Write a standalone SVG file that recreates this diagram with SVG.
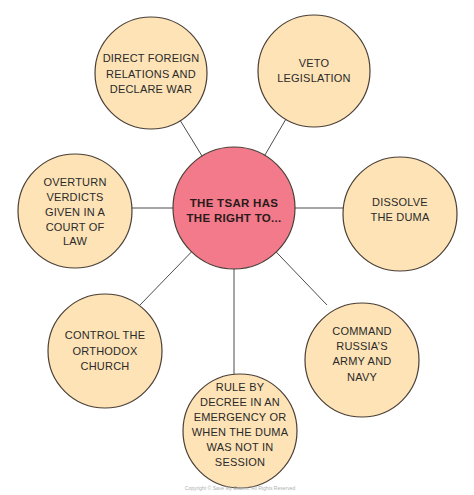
<svg xmlns="http://www.w3.org/2000/svg" width="474" height="495" viewBox="0 0 474 495">
<style>
.n{fill:#fde3b6;stroke:#4a3f36;stroke-width:1.2}
.c{fill:#f27a8b;stroke:#4a3f36;stroke-width:1.2}
.t{font-family:"Liberation Sans",Arial,sans-serif;font-size:11px;fill:#2a2a2a;text-anchor:middle;letter-spacing:0.2px}
.tc{font-family:"Liberation Sans",Arial,sans-serif;font-size:11.5px;font-weight:bold;fill:#2a1a1a;text-anchor:middle;letter-spacing:0.3px}
.e{stroke:#4d4d4d;stroke-width:1;fill:none}
</style>
<rect width="474" height="495" fill="#ffffff"/>
<g id="connectors">
<line class="e" x1="234" y1="208" x2="151" y2="73"/>
<line class="e" x1="234" y1="208" x2="314" y2="71"/>
<line class="e" x1="234" y1="208" x2="75" y2="208"/>
<line class="e" x1="234" y1="208" x2="400" y2="208"/>
<line class="e" x1="234" y1="208" x2="140" y2="305"/>
<line class="e" x1="234" y1="208" x2="327" y2="305"/>
<line class="e" x1="234" y1="208" x2="234" y2="380"/>
</g>
<g id="node-foreign">
<circle class="n" cx="151" cy="73" r="56"/>
<text class="t" x="151" y="62">DIRECT FOREIGN</text>
<text class="t" x="151" y="77.5">RELATIONS AND</text>
<text class="t" x="151" y="93">DECLARE WAR</text>
</g>
<g id="node-veto">
<circle class="n" cx="314" cy="71" r="56"/>
<text class="t" x="314" y="67">VETO</text>
<text class="t" x="314" y="82">LEGISLATION</text>
</g>
<g id="node-overturn">
<circle class="n" cx="75" cy="211" r="57"/>
<text class="t" x="75" y="186">OVERTURN</text>
<text class="t" x="75" y="201">VERDICTS</text>
<text class="t" x="75" y="216">GIVEN IN A</text>
<text class="t" x="75" y="231">COURT OF</text>
<text class="t" x="75" y="245">LAW</text>
</g>
<g id="node-dissolve">
<circle class="n" cx="400" cy="214" r="57"/>
<text class="t" x="400" y="206">DISSOLVE</text>
<text class="t" x="400" y="221">THE DUMA</text>
</g>
<g id="node-church">
<circle class="n" cx="105" cy="351" r="57"/>
<text class="t" x="105" y="339">CONTROL THE</text>
<text class="t" x="105" y="355">ORTHODOX</text>
<text class="t" x="105" y="370">CHURCH</text>
</g>
<g id="node-army">
<circle class="n" cx="362" cy="360" r="57"/>
<text class="t" x="362" y="335">COMMAND</text>
<text class="t" x="362" y="350">RUSSIA’S</text>
<text class="t" x="362" y="365">ARMY AND</text>
<text class="t" x="362" y="381">NAVY</text>
</g>
<g id="node-decree">
<circle class="n" cx="240" cy="431" r="57"/>
<text class="t" x="240" y="391">RULE BY</text>
<text class="t" x="240" y="406">DECREE IN AN</text>
<text class="t" x="240" y="421">EMERGENCY OR</text>
<text class="t" x="240" y="436">WHEN THE DUMA</text>
<text class="t" x="240" y="451">WAS NOT IN</text>
<text class="t" x="240" y="466">SESSION</text>
</g>
<g id="node-center">
<circle class="c" cx="234" cy="208" r="61"/>
<text class="tc" x="234" y="206.5">THE TSAR HAS</text>
<text class="tc" x="234" y="221.5">THE RIGHT TO...</text>
</g>
<text x="240" y="490" font-family="Liberation Sans,Arial,sans-serif" font-size="5" fill="#b0b0b0" text-anchor="middle">Copyright © Save My Exams. All Rights Reserved</text>
</svg>
